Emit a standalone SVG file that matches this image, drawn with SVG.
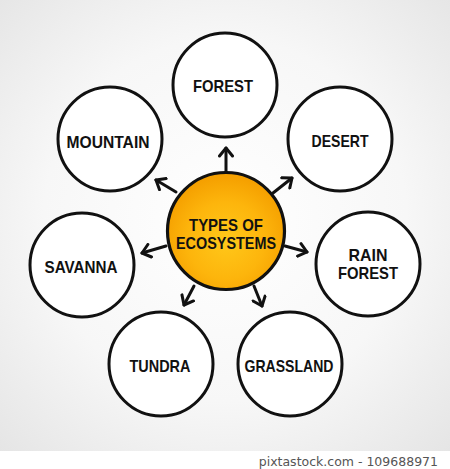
<svg xmlns="http://www.w3.org/2000/svg" width="450" height="469" viewBox="0 0 450 469">
  <defs>
    <radialGradient id="bg" cx="225" cy="220" r="330" gradientUnits="userSpaceOnUse">
      <stop offset="0" stop-color="#ffffff"/>
      <stop offset="0.55" stop-color="#f7f7f7"/>
      <stop offset="1" stop-color="#e4e4e4"/>
    </radialGradient>
    <radialGradient id="hub" cx="0.5" cy="0.58" r="0.55">
      <stop offset="0" stop-color="#ffc81a"/>
      <stop offset="0.6" stop-color="#fdb50c"/>
      <stop offset="1" stop-color="#f5a000"/>
    </radialGradient>
    <marker id="arr" viewBox="-10 -8 12 16" refX="0" refY="0" markerWidth="12" markerHeight="16" markerUnits="userSpaceOnUse" orient="auto">
      <path d="M-8,-6.5 L0,0 L-8,6.5" fill="none" stroke="#111" stroke-width="3" stroke-linecap="round" stroke-linejoin="round"/>
    </marker>
    <style>
      .node { fill: #ffffff; stroke: #111; stroke-width: 3; }
      .hub { fill: url(#hub); stroke: #111; stroke-width: 3.2; }
      .lbl { font-family: "Liberation Sans", "DejaVu Sans", sans-serif; font-weight: bold; font-size: 17px; fill: #111; text-anchor: middle; }
      .conn { stroke: #111; stroke-width: 3; stroke-linecap: round; fill: none; marker-end: url(#arr); }
      .foot { font-family: "DejaVu Sans", "Liberation Sans", sans-serif; font-size: 12.5px; fill: #555; }
    </style>
  </defs>

  <rect x="0" y="0" width="450" height="451" fill="url(#bg)"/>
  <rect x="0" y="451" width="450" height="18" fill="#ffffff"/>

  <g id="connectors">
    <line class="conn" x1="226" y1="172" x2="226" y2="148"/>
    <line class="conn" x1="273" y1="193" x2="292" y2="178"/>
    <line class="conn" x1="285" y1="246" x2="307" y2="252"/>
    <line class="conn" x1="254" y1="286" x2="262" y2="306"/>
    <line class="conn" x1="194" y1="286" x2="184" y2="305"/>
    <line class="conn" x1="166" y1="246" x2="142" y2="253"/>
    <line class="conn" x1="176" y1="192" x2="156" y2="180"/>
  </g>

  <g id="hub-node">
    <circle class="hub" cx="226" cy="231" r="58.5"/>
    <text class="lbl" x="226" y="231" textLength="74" lengthAdjust="spacingAndGlyphs">TYPES OF</text>
    <text class="lbl" x="226" y="249" textLength="100" lengthAdjust="spacingAndGlyphs">ECOSYSTEMS</text>
  </g>

  <g id="forest">
    <circle class="node" cx="225" cy="85" r="52"/>
    <text class="lbl" x="223" y="92" textLength="60" lengthAdjust="spacingAndGlyphs">FOREST</text>
  </g>

  <g id="desert">
    <circle class="node" cx="340" cy="139" r="52"/>
    <text class="lbl" x="340" y="147" textLength="57" lengthAdjust="spacingAndGlyphs">DESERT</text>
  </g>

  <g id="rain-forest">
    <circle class="node" cx="368" cy="264" r="52"/>
    <text class="lbl" x="368" y="261" textLength="39" lengthAdjust="spacingAndGlyphs">RAIN</text>
    <text class="lbl" x="368" y="279" textLength="60" lengthAdjust="spacingAndGlyphs">FOREST</text>
  </g>

  <g id="grassland">
    <circle class="node" cx="290" cy="364" r="52"/>
    <text class="lbl" x="289" y="372" textLength="89" lengthAdjust="spacingAndGlyphs">GRASSLAND</text>
  </g>

  <g id="tundra">
    <circle class="node" cx="161" cy="364" r="52"/>
    <text class="lbl" x="160" y="372" textLength="61" lengthAdjust="spacingAndGlyphs">TUNDRA</text>
  </g>

  <g id="savanna">
    <circle class="node" cx="82" cy="265" r="52"/>
    <text class="lbl" x="81" y="273" textLength="73" lengthAdjust="spacingAndGlyphs">SAVANNA</text>
  </g>

  <g id="mountain">
    <circle class="node" cx="110" cy="139" r="52"/>
    <text class="lbl" x="108" y="148" textLength="83" lengthAdjust="spacingAndGlyphs">MOUNTAIN</text>
  </g>

  <text class="foot" x="438" y="466" text-anchor="end">pixtastock.com - 109688971</text>
</svg>
